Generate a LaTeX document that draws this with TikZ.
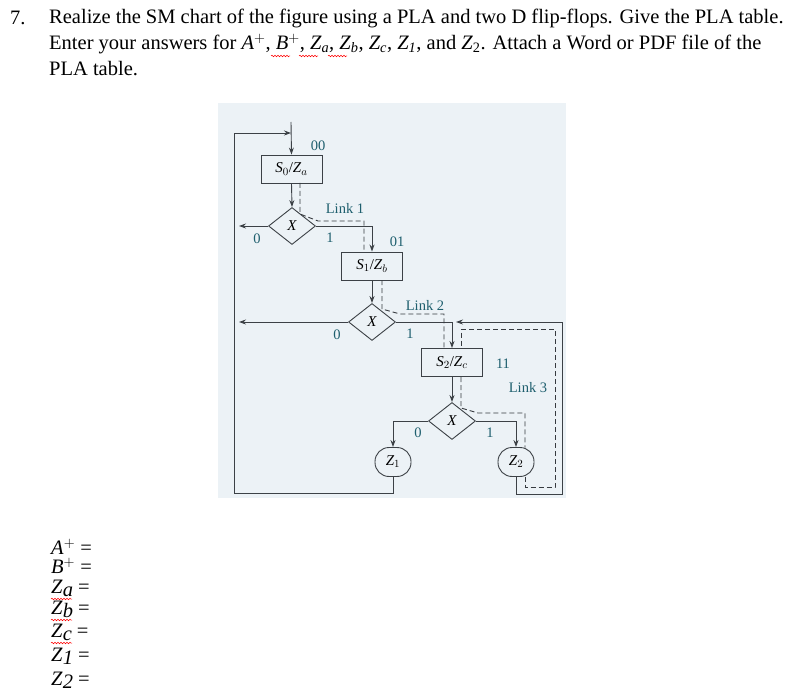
\documentclass[tikz,border=0pt]{standalone}
\usepackage{fontspec}
\setmainfont{Liberation Serif}
\usetikzlibrary{arrows.meta,shapes.geometric,decorations.pathmorphing}
\definecolor{teal1}{RGB}{30,95,110}
\definecolor{ln}{RGB}{60,65,70}
\definecolor{bg}{RGB}{236,242,246}
\newcommand{\ii}[1]{\textit{#1}}
\begin{document}
\begin{tikzpicture}[x=1pt,y=-1pt,
  box/.style={draw=ln,line width=0.9pt,minimum width=61pt,minimum height=28pt,inner sep=0pt,font=\fontsize{15}{15}\selectfont},
  dia/.style={draw=ln,line width=0.9pt,diamond,minimum width=47pt,minimum height=37pt,inner sep=0pt,aspect=1.3,font=\fontsize{15}{15}\selectfont\itshape},
  ov/.style={draw=ln,line width=0.9pt,rectangle,minimum width=36pt,minimum height=29pt,inner sep=0pt,rounded corners=14pt,font=\fontsize{15}{15}\selectfont},
  ar/.style={draw=ln,line width=0.9pt,-{Stealth[length=7pt,width=5pt]}},
  dsh/.style={draw=ln!90!black,line width=0.9pt,dash pattern=on 5pt off 3pt},
  lab/.style={text=teal1,font=\fontsize{14.5}{14.5}\selectfont,inner sep=0pt},
  txt/.style={anchor=west,inner sep=0pt,font=\fontsize{20.5}{20.5}\selectfont},
  wav/.style={red,line width=0.5pt,decorate,decoration={snake,amplitude=0.8pt,segment length=3pt}}]
\useasboundingbox (0,0) rectangle (804,698);
\fill[bg] (218,103) rectangle (566,498);
% question text
\node[txt] (n7) at (10,18) {7.};
\node[txt] (l1) at (49,18) {Realize the SM chart of the figure using a PLA and two D flip-flops. Give the PLA table.};
\node[txt] (l2) at (49,44) {Enter your answers for \ii{A}$^{+}$, \ii{B}$^{+}$, \ii{Z\textsubscript{a}}, \ii{Z\textsubscript{b}}, \ii{Z\textsubscript{c}}, \ii{Z\textsubscript{1}}, and \ii{Z}\textsubscript{2}. Attach a Word or PDF file of the};
\node[txt] (l3) at (49,69) {PLA table.};
\draw[wav] (271,56) -- (290,56);
\draw[wav] (299,56) -- (318,56);
\draw[wav] (328,56) -- (347,56);
% answers
\foreach \t/\y/\n in {{\ii{A}$^{+}$ =}/547/a1,{\ii{B}$^{+}$ =}/566/a2,{\ii{Z}\raisebox{-3pt}{\ii{a}} =}/588/a3,{\ii{Z}\raisebox{-3pt}{\ii{b}} =}/609/a4,{\ii{Z}\raisebox{-3pt}{\ii{c}} =}/632/a5,{\ii{Z}\raisebox{-3pt}{\ii{1}} =}/656/a6,{\ii{Z}\raisebox{-3pt}{\ii{2}} =}/680/a7}
  \node[txt] (\n) at (51,\y) {\t};
\foreach \y in {599,620,643} \draw[wav] (51,\y) -- (72,\y);
% chart
\node[box] (s0) at (291.5,169) {\ii{S}$_0$/\ii{Z}$_a$};
\node[dia] (d1) at (292,226) {X};
\node[box] (s1) at (372,266) {\ii{S}$_1$/\ii{Z}$_b$};
\node[dia] (d2) at (372,322) {X};
\node[box] (s2) at (452,362.5) {\ii{S}$_2$/\ii{Z}$_c$};
\node[dia] (d3) at (452,421) {X};
\node[ov] (z1) at (393,462) {\ii{Z}$_1$};
\node[ov] (z2) at (516,462) {\ii{Z}$_2$};
\coordinate (top) at (291,122);
\draw[ar] (top) -- (s0.north);
\draw[ar] (s0.south) -- (d1.north);
\draw[ar] (d1.east) -| (s1.north);
\draw[ar] (s1.south) -- (d2.north);
\draw[ar] (d2.east) -| (s2.north);
\draw[ar] (s2.south) -- (d3.north);
\draw[ar] (d3.west) -| (z1.north);
\draw[ar] (d3.east) -| (z2.north);
\draw[ar] (d1.west) -- (239,226);
\draw[ar] (d2.west) -- (239,322);
\draw[ar] (z1.south) -- (393,493) -- (234,493) -- (234,133) -- (291,133);
\draw[ar] (z2.south) -- (516,494) -- (562,494) -- (562,322) -- (456,322);
% dashed links
\draw[dsh] (300,183) -- (300,214) -- (318,221) -- (364,221) -- (364,252);
\draw[dsh] (382,280) -- (382,309) -- (400,314) -- (444,314) -- (444,348);
\draw[dsh] (461,377) -- (461,408) -- (478,413) -- (525,413) -- (525,447.5);
\draw[dsh] (525,476.5) -- (525,487) -- (555,487) -- (555,329) -- (461,329) -- (461,348);
% labels
\node[lab] at (318,146) {00};
\node[lab] at (397,242) {01};
\node[lab] at (503,364) {11};
\node[lab] at (345,208) {Link 1};
\node[lab] at (425,305) {Link 2};
\node[lab] at (528,388) {Link 3};
\node[lab] at (257,239) {0};
\node[lab] at (330,238) {1};
\node[lab] at (337,335) {0};
\node[lab] at (410,334) {1};
\node[lab] at (418,433) {0};
\node[lab] at (490,433) {1};
\end{tikzpicture}
\end{document}
